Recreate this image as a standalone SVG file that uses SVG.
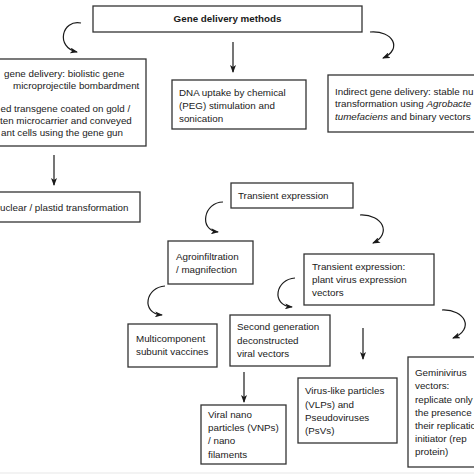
<svg xmlns="http://www.w3.org/2000/svg" width="474" height="474" viewBox="0 0 474 474">
<defs>
<marker id="ah" viewBox="0 0 8 6" refX="7" refY="3" markerWidth="8" markerHeight="6" markerUnits="userSpaceOnUse" orient="auto">
<path d="M0,0 L8,3 L0,6 L2,3 z" fill="#1a1a1a"/>
</marker>
<style>
.box{fill:#fff;stroke:#333;stroke-width:1.3}
.t{font-family:"Liberation Sans",Arial,sans-serif;font-size:9.8px;fill:#1a1a1a}
.b{font-weight:bold}
.c{fill:none;stroke:#1a1a1a;stroke-width:1.2;marker-end:url(#ah)}
</style>
</defs>
<rect width="474" height="474" fill="#fff"/>
<rect x="0" y="472" width="474" height="2" fill="#f3f3f3"/>
<g id="connectors">
<path class="c" d="M81,23 C62,19 55,47 77,52"/>
<path class="c" d="M233,42 L233,72"/>
<path class="c" d="M370,32 C393,30 403,49 383,58"/>
<path class="c" d="M54,155 L54,185"/>
<path class="c" d="M223,202 C204,202 198,230 218,232"/>
<path class="c" d="M360,215 C383,214 392,234 373,243"/>
<path class="c" d="M165,286 C146,287 140,313 162,315"/>
<path class="c" d="M295,278 C276,279 270,305 292,307"/>
<path class="c" d="M244,372 L244,402"/>
<path class="c" d="M363,328 L363,359"/>
<path class="c" d="M442,310 C465,309 475,329 453,338"/>
</g>
<g id="n-gene-delivery">
<rect class="box" x="93" y="6" width="269" height="26"/>
<text class="t b" x="227.5" y="22" text-anchor="middle">Gene delivery methods</text>
</g>
<g id="n-direct">
<rect class="box" x="-5" y="59" width="151" height="87"/>
<text class="t" x="4" y="77">gene delivery: biolistic gene</text>
<text class="t" x="13" y="89">microprojectile bombardment</text>
<text class="t" x="0.5" y="112">ed transgene coated on gold /</text>
<text class="t" x="0" y="124">ten microcarrier and conveyed</text>
<text class="t" x="1" y="136">ant cells using the gene gun</text>
</g>
<g id="n-dna">
<rect class="box" x="172" y="80" width="134" height="49"/>
<text class="t" x="179" y="96">DNA uptake by chemical</text>
<text class="t" x="179" y="109">(PEG) stimulation and</text>
<text class="t" x="179" y="122">sonication</text>
</g>
<g id="n-indirect">
<rect class="box" x="328" y="75" width="152" height="57"/>
<text class="t" x="335" y="95">Indirect gene delivery: stable nu</text>
<text class="t" x="335" y="107">transformation using <tspan font-style="italic">Agrobacte</tspan></text>
<text class="t" x="335" y="120"><tspan font-style="italic">tumefaciens</tspan> and binary vectors</text>
</g>
<g id="n-nuclear">
<rect class="box" x="-5" y="192" width="145" height="30"/>
<text class="t" x="0" y="211">uclear / plastid transformation</text>
</g>
<g id="n-transient">
<rect class="box" x="231" y="183" width="122" height="25"/>
<text class="t" x="238" y="199">Transient expression</text>
</g>
<g id="n-agro">
<rect class="box" x="168" y="241" width="85" height="43"/>
<text class="t" x="176" y="260">Agroinfiltration</text>
<text class="t" x="176" y="273">/ magnifection</text>
</g>
<g id="n-plantvirus">
<rect class="box" x="304" y="254" width="130" height="51"/>
<text class="t" x="312" y="270">Transient expression:</text>
<text class="t" x="312" y="283">plant virus expression</text>
<text class="t" x="312" y="296">vectors</text>
</g>
<g id="n-multi">
<rect class="box" x="128" y="324" width="89" height="43"/>
<text class="t" x="136" y="342">Multicomponent</text>
<text class="t" x="136" y="355">subunit vaccines</text>
</g>
<g id="n-second">
<rect class="box" x="230" y="315" width="100" height="51"/>
<text class="t" x="237" y="330">Second generation</text>
<text class="t" x="237" y="344">deconstructed</text>
<text class="t" x="237" y="357">viral vectors</text>
</g>
<g id="n-vnp">
<rect class="box" x="201" y="405" width="85" height="59"/>
<text class="t" x="208" y="418">Viral nano</text>
<text class="t" x="208" y="431">particles (VNPs)</text>
<text class="t" x="208" y="444">/ nano</text>
<text class="t" x="208" y="458">filaments</text>
</g>
<g id="n-vlp">
<rect class="box" x="298" y="378" width="99" height="65"/>
<text class="t" x="305" y="394">Virus-like particles</text>
<text class="t" x="305" y="408">(VLPs) and</text>
<text class="t" x="305" y="421">Pseudoviruses</text>
<text class="t" x="305" y="434">(PsVs)</text>
</g>
<g id="n-gemini">
<rect class="box" x="408" y="357" width="72" height="110"/>
<text class="t" x="415" y="376">Geminivirus</text>
<text class="t" x="415" y="389">vectors:</text>
<text class="t" x="415" y="403">replicate only</text>
<text class="t" x="415" y="416">the presence</text>
<text class="t" x="415" y="429">their replicatio</text>
<text class="t" x="415" y="442">initiator (rep</text>
<text class="t" x="415" y="455">protein)</text>
</g>
</svg>
